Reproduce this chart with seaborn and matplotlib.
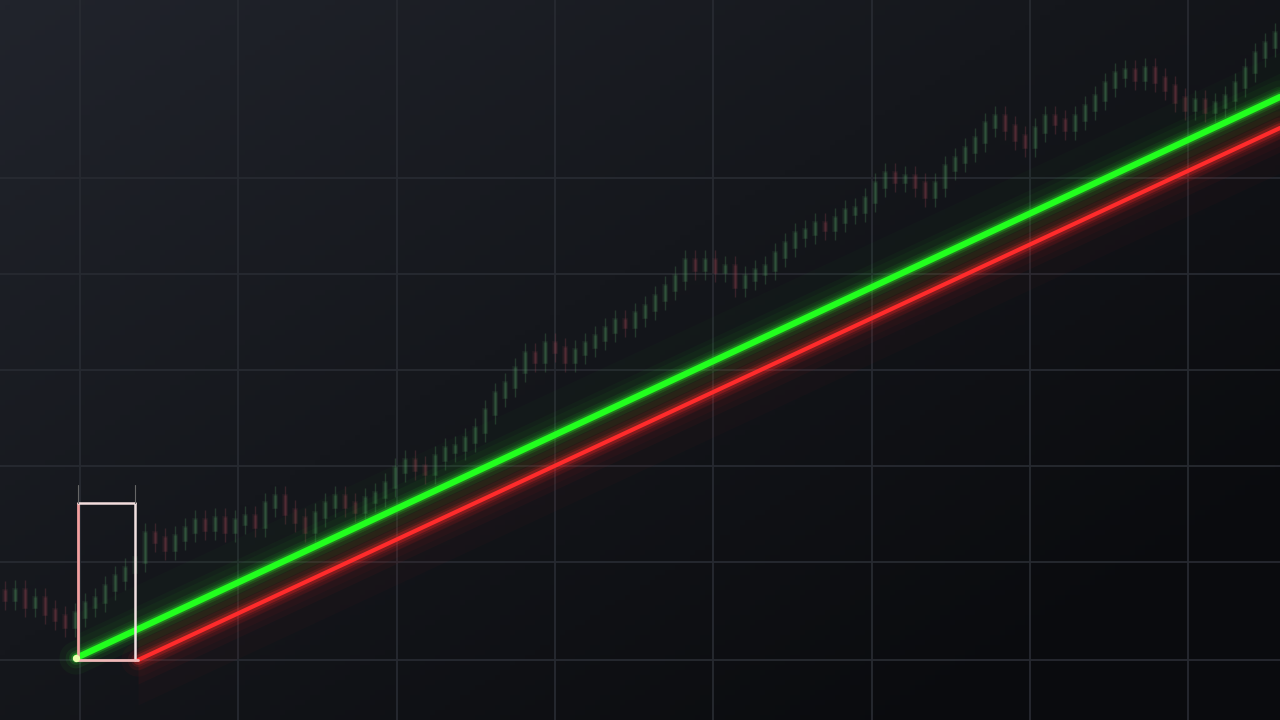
import numpy as np
import pandas as pd
import matplotlib as mpl
import matplotlib.pyplot as plt
import seaborn as sns
from matplotlib.colors import LinearSegmentedColormap

mpl.use('Agg')

# candle closes, read left to right off the picture (one candle every 10 time units)
close = [122, 128, 115, 120, 108, 102, 95, 105, 115, 120, 132, 142, 150, 160, 185, 180,
         172, 182, 190, 198, 192, 200, 190, 198, 202, 195, 215, 222, 208, 200, 190, 205,
         215, 222, 215, 210, 220, 225, 235, 250, 258, 252, 248, 262, 270, 272, 280, 290,
         308, 325, 335, 350, 365, 360, 375, 370, 360, 368, 375, 382, 390, 398, 395, 405,
         412, 422, 432, 442, 458, 452, 458, 450, 452, 435, 442, 448, 452, 465, 475, 485,
         488, 495, 492, 500, 508, 510, 520, 535, 545, 540, 542, 535, 525, 535, 552, 560,
         570, 580, 595, 602, 592, 582, 575, 590, 602, 598, 592, 602, 612, 622, 635, 645,
         648, 642, 650, 640, 632, 620, 612, 618, 610, 615, 622, 635, 650, 665, 675, 685]

# the two trend lines (start / end)
green_x = [76, 1280]
green_y = [62, 623]
red_x = [138, 1280]
red_y = [60, 592]

# marked range box
box_x = [78, 135]
box_y = [60, 217]

sns.set_theme(style="dark")
plt.rcParams['font.family'] = ['DejaVu Sans']

fig = plt.figure(figsize=(12.8, 7.2), dpi=100)
ax = fig.add_axes([0, 0, 1, 1])
ax.set_xlim(0, 1280)
ax.set_ylim(0, 720)

# background with diagonal fade
bg = LinearSegmentedColormap.from_list('bg', ['#0a0b0e', '#15171c', '#21242c'])
gx, gy = np.meshgrid(np.linspace(0, 1, 256), np.linspace(0, 1, 144))
shade = np.clip(1 - (0.6 * gx + 0.55 * (1 - gy)), 0, 1)
ax.imshow(shade, cmap=bg, extent=[0, 1280, 0, 720], origin='lower', aspect='auto', zorder=0)

# grid
for gxv in np.arange(80, 1280, 158.3):
    ax.axvline(gxv, color='#272a31', lw=1.3, zorder=1)
for gyv in [60, 158, 254, 350, 446, 542]:
    ax.axhline(gyv, color='#272a31', lw=1.3, zorder=1)

# faint, blurry candles
df = pd.DataFrame({'t': 5 + 10 * np.arange(len(close)), 'close': close})
df['open'] = df['close'].shift(1).fillna(df['close'][0] + 5)
df['up'] = df['close'] >= df['open']
wick = 12
for _, r in df.iterrows():
    c = '#4a8a58' if r['up'] else '#8a3f4c'
    lo, hi = min(r['open'], r['close']), max(r['open'], r['close'])
    ax.vlines(r['t'], lo - wick, hi + wick, color=c, lw=1, alpha=0.3, zorder=2)
    ax.vlines(r['t'], lo - 4, hi + 4, color=c, lw=4, alpha=0.12, zorder=2)
    ax.vlines(r['t'], lo - 3, hi + 3, color=c, lw=2.5, alpha=0.25, zorder=2)

# haze between and under the lines
xs = np.array([138, 1280])
g_at = np.interp(xs, green_x, green_y)
r_at = np.interp(xs, red_x, red_y)
ax.fill_between(xs, r_at, g_at, color='#5a3a10', alpha=0.2, lw=0, zorder=2)
for k, a in [(10, 0.06), (24, 0.04), (45, 0.025)]:
    ax.fill_between(xs, r_at - k, r_at, color='#ff2020', alpha=a, lw=0, zorder=2)
    ax.fill_between([76, 1280], np.array(green_y), np.array(green_y) + k, color='#20ff20', alpha=a * 0.8, lw=0, zorder=2)

# glowing lines
lines = pd.DataFrame({'x': green_x + red_x, 'y': green_y + red_y,
                      'line': ['green'] * 2 + ['red'] * 2})
for lw, a in [(24, 0.04), (15, 0.07), (10, 0.12), (7, 0.25)]:
    sns.lineplot(data=lines, x='x', y='y', hue='line', palette={'green': '#30ff30', 'red': '#ff2a2a'},
                 lw=lw, alpha=a, legend=False, ax=ax, zorder=3, solid_capstyle='round')
sns.lineplot(data=lines[lines['line'] == 'green'], x='x', y='y', color='#22ff1e', lw=4.5, legend=False, ax=ax, zorder=4)
sns.lineplot(data=lines[lines['line'] == 'red'], x='x', y='y', color='#ff2b2b', lw=3, legend=False, ax=ax, zorder=4)

# range box
ax.plot([box_x[0], box_x[0]], box_y, color='#f3a0a0', lw=2, zorder=5)
ax.plot([box_x[0], box_x[1]], [box_y[1], box_y[1]], color='#f4dede', lw=1.8, zorder=5)
ax.plot([box_x[1], box_x[1]], box_y, color='#f0e0e0', lw=1.8, zorder=5)
ax.plot([box_x[0], red_x[0]], [box_y[0], box_y[0]], color='#f0b8b8', lw=2, zorder=5)
ax.plot([box_x[0], box_x[0]], [box_y[1], box_y[1] + 18], color='#666666', lw=0.8, zorder=5)
ax.plot([box_x[1], box_x[1]], [box_y[1], box_y[1] + 18], color='#666666', lw=0.8, zorder=5)
ax.scatter([green_x[0]], [green_y[0]], s=18, color='#eaffb0', zorder=6)

ax.set_axis_off()
fig.savefig('out.png', dpi=100)
